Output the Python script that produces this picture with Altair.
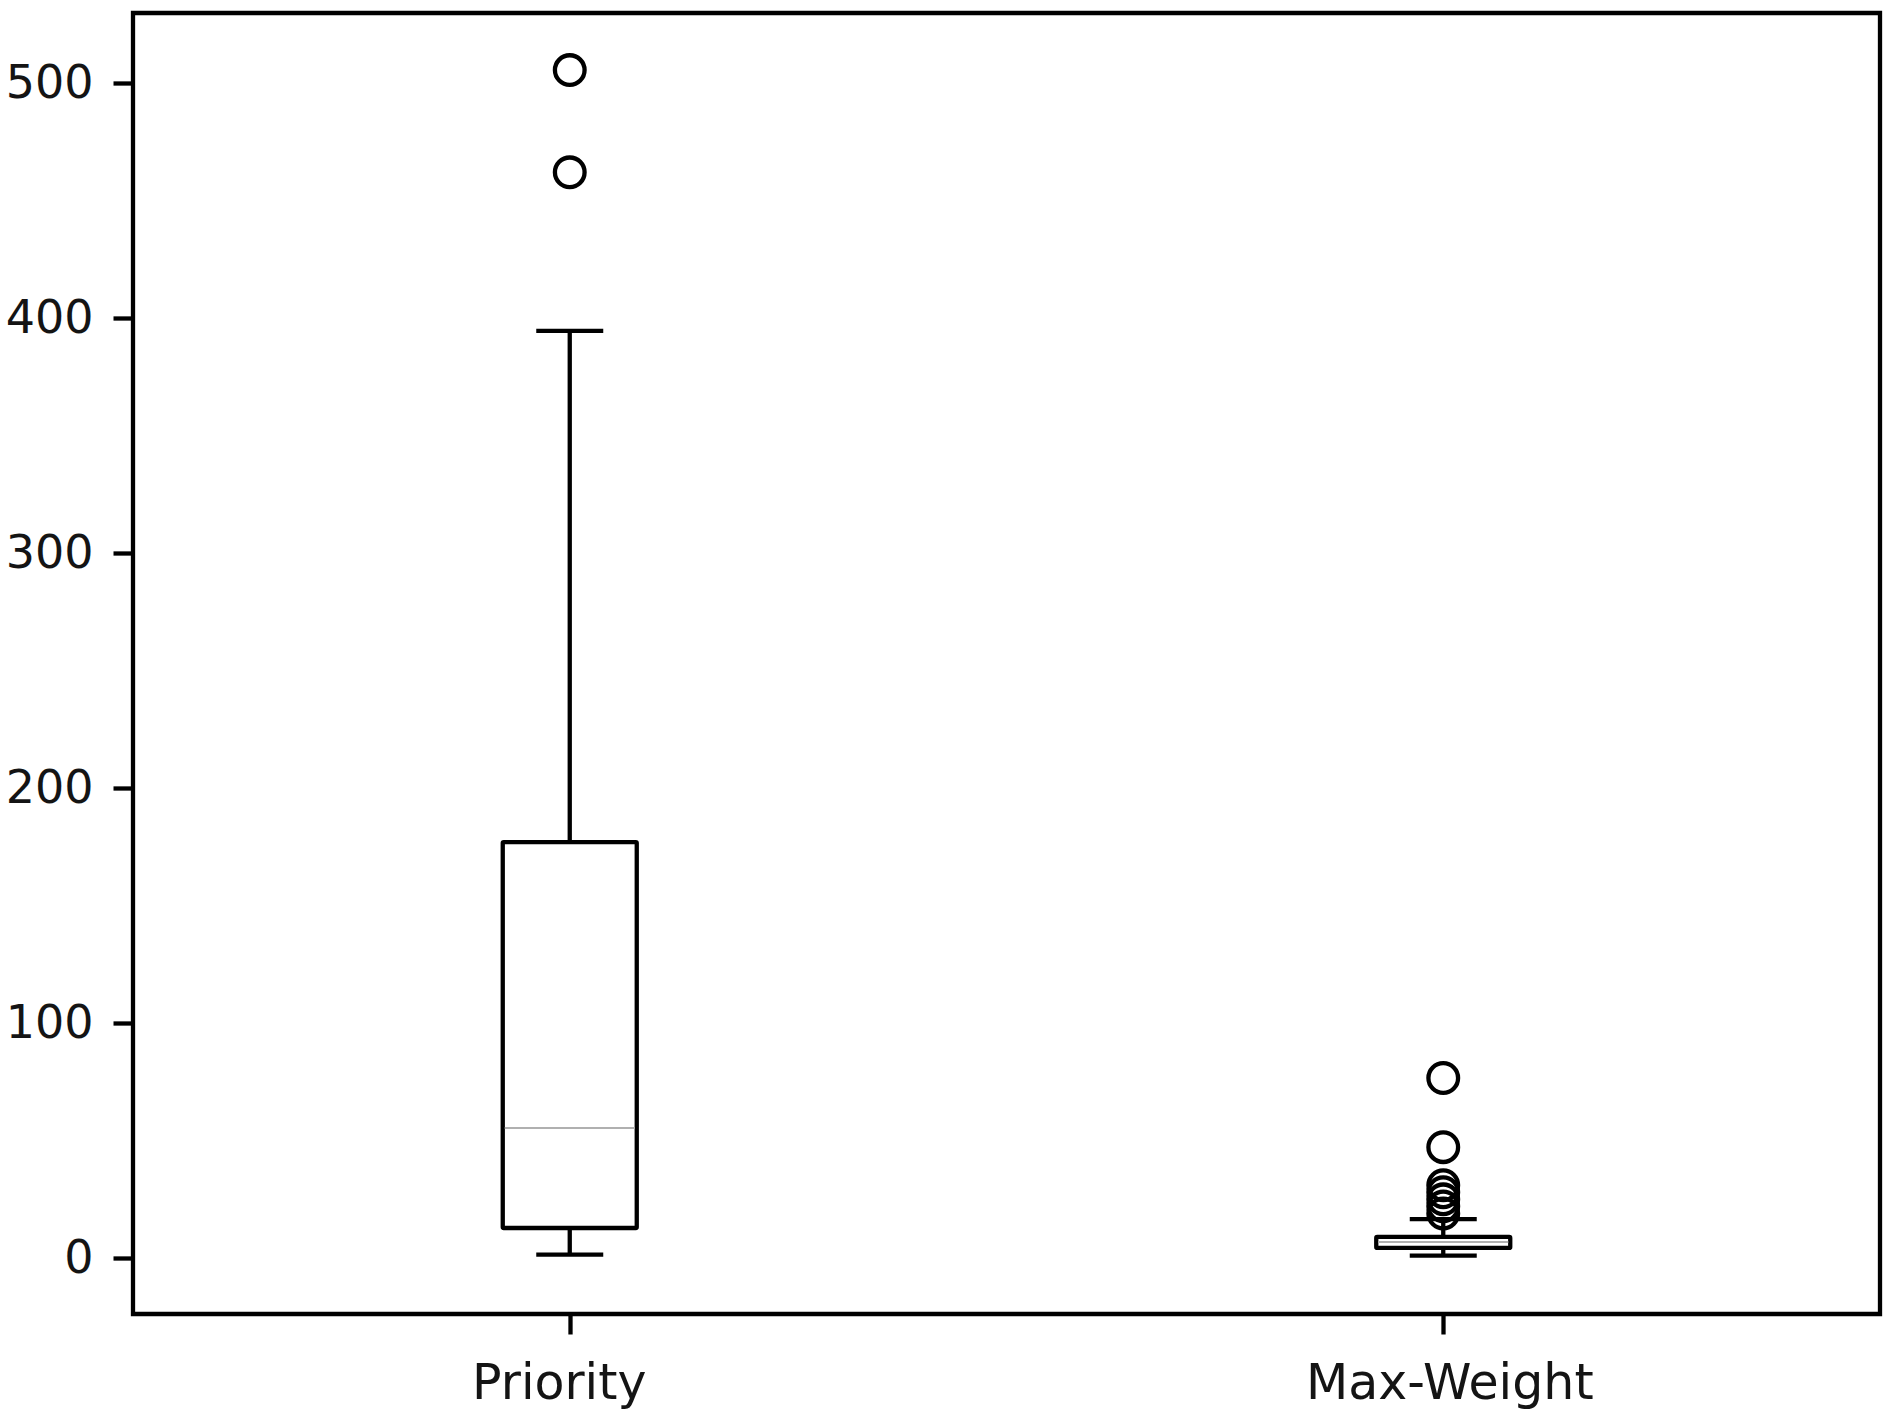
import altair as alt
import pandas as pd

# Box plot summary values
categories = ["Priority", "Max-Weight"]
whisker_low = [1.5, 1.0]
q1 = [12.8, 4.3]
median = [55.3, 6.8]
q3 = [177.0, 9.0]
whisker_high = [394.5, 16.6]

outlier_category = ["Priority", "Priority",
                    "Max-Weight", "Max-Weight", "Max-Weight", "Max-Weight",
                    "Max-Weight", "Max-Weight", "Max-Weight"]
outlier_value = [505.5, 462.0, 76.6, 47.2, 31.0, 28.0, 25.0, 22.0, 19.0]

y_ticks = [0, 100, 200, 300, 400, 500]

stats = pd.DataFrame({
    "cat": categories, "lo": whisker_low, "q1": q1, "med": median,
    "q3": q3, "hi": whisker_high,
})
outliers = pd.DataFrame({"cat": outlier_category, "v": outlier_value})

LW = 4.3
BOX_W = 134
CAP_W = 67

x_enc = alt.X("cat:N", sort=categories,
              scale=alt.Scale(type="point", padding=0.5),
              axis=alt.Axis(title=None, labelAngle=0,
                            labelOffset=alt.condition("datum.value == 'Priority'",
                                                      alt.value(-11), alt.value(6))))
y_scale = alt.Scale(domain=[-23.8, 529.8], nice=False, zero=False)
y_axis = alt.Axis(title=None, values=y_ticks, grid=False)

base = alt.Chart(stats)

box = base.mark_bar(size=BOX_W, fill="white", stroke="black",
                    strokeWidth=LW, cornerRadius=1, opacity=1).encode(
    x=x_enc,
    y=alt.Y("q1:Q", scale=y_scale, axis=y_axis),
    y2="q3:Q",
)

med = base.mark_tick(size=BOX_W - 4, thickness=2, color="#b0b0b0",
                     opacity=1).encode(
    x=x_enc, y=alt.Y("med:Q", scale=y_scale),
)

w_hi = base.mark_rule(color="black", strokeWidth=LW, opacity=1).encode(
    x=x_enc, y=alt.Y("q3:Q", scale=y_scale), y2="hi:Q",
)
w_lo = base.mark_rule(color="black", strokeWidth=LW, opacity=1).encode(
    x=x_enc, y=alt.Y("lo:Q", scale=y_scale), y2="q1:Q",
)

cap_hi = base.mark_tick(size=CAP_W, thickness=LW, color="black",
                        opacity=1).encode(
    x=x_enc, y=alt.Y("hi:Q", scale=y_scale),
)
cap_lo = base.mark_tick(size=CAP_W, thickness=LW, color="black",
                        opacity=1).encode(
    x=x_enc, y=alt.Y("lo:Q", scale=y_scale),
)

pts = alt.Chart(outliers).mark_point(
    shape="circle", filled=False, color="black", strokeWidth=LW,
    size=880, opacity=1,
).encode(
    x=x_enc, y=alt.Y("v:Q", scale=y_scale),
)

chart = alt.layer(box, med, w_hi, w_lo, cap_hi, cap_lo, pts).properties(
    width=1747, height=1301,
    autosize=alt.AutoSizeParams(type="none"),
    padding={"left": 133, "top": 13, "right": 13, "bottom": 102},
    background="white",
).configure_view(
    stroke="black", strokeWidth=LW,
).configure_axis(
    domain=False,
    labelFont="DejaVu Sans",
    labelFontSize=46,
    labelColor="#141414",
    labelLimit=0,
    tickColor="black",
    tickWidth=LW,
    tickSize=20,
    tickOpacity=1,
).configure_axisY(
    labelPadding=20,
).configure_axisX(
    labelPadding=25,
    labelFontSize=49,
)

chart.save("out.html", embed_options={"renderer": "svg", "actions": False})
